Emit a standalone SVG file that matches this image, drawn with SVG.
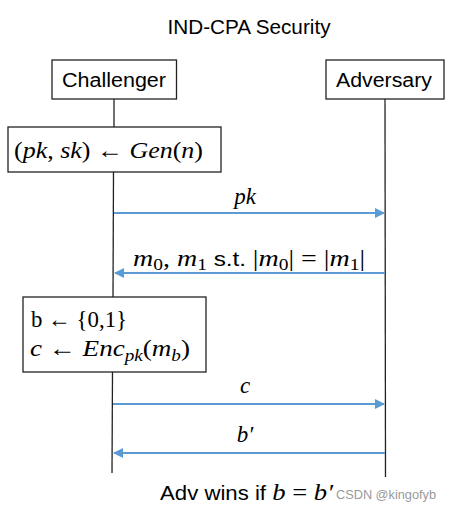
<svg xmlns="http://www.w3.org/2000/svg" width="451" height="511" viewBox="0 0 451 511">
<defs>
<marker id="ah" viewBox="0 0 10 10" refX="9" refY="5" markerWidth="5" markerHeight="5" orient="auto-start-reverse" markerUnits="strokeWidth">
<path d="M0,0 L10,5 L0,10 z" fill="#5B9BD5"/>
</marker>
<style>
.box{fill:#fff;stroke:#222;stroke-width:1.3}
.life{stroke:#222;stroke-width:1.3;fill:none}
.msg{stroke:#5B9BD5;stroke-width:2;fill:none}
.sans{font-family:"Liberation Sans",Arial,sans-serif;fill:#000}
.math{font-family:"Liberation Serif","DejaVu Serif",serif;font-style:italic;fill:#000}
.up{font-style:normal}
</style>
</defs>
<rect width="451" height="511" fill="#fff"/>
<text class="sans" x="249" y="34" font-size="19.5" text-anchor="middle" textLength="163" lengthAdjust="spacingAndGlyphs">IND-CPA Security</text>
<g id="lifelines">
<line class="life" x1="114" y1="99" x2="114" y2="127"/>
<line class="life" x1="113.5" y1="172" x2="113" y2="297"/>
<line class="life" x1="112.5" y1="372" x2="112" y2="473"/>
<line class="life" x1="385" y1="99" x2="385.5" y2="477"/>
</g>
<g id="challenger">
<rect class="box" x="52" y="60" width="124.5" height="39"/>
<text class="sans" x="62" y="87" font-size="20" textLength="104" lengthAdjust="spacingAndGlyphs">Challenger</text>
</g>
<g id="adversary">
<rect class="box" x="326" y="60" width="118" height="39"/>
<text class="sans" x="336" y="87" font-size="20" textLength="96" lengthAdjust="spacingAndGlyphs">Adversary</text>
</g>
<g id="gen">
<rect class="box" x="8" y="127" width="213" height="45"/>
<text class="math" x="14" y="158" font-size="24" textLength="189" lengthAdjust="spacingAndGlyphs"><tspan class="up">(</tspan>pk<tspan class="up">, </tspan>sk<tspan class="up">) ← </tspan>Gen<tspan class="up">(</tspan>n<tspan class="up">)</tspan></text>
</g>
<g id="enc">
<rect class="box" x="23" y="297" width="183" height="75"/>
<text class="math up" x="31" y="327" font-size="24" textLength="96" lengthAdjust="spacingAndGlyphs">b ← {0,1}</text>
<text class="math" x="30" y="356" font-size="24" textLength="160" lengthAdjust="spacingAndGlyphs">c<tspan class="up"> ← </tspan>Enc<tspan font-size="17" dy="5">pk</tspan><tspan class="up" dy="-5">(</tspan>m<tspan font-size="17" dy="5">b</tspan><tspan class="up" dy="-5">)</tspan></text>
</g>
<g id="connectors">
<line class="msg" x1="114" y1="213" x2="384" y2="213" marker-end="url(#ah)"/>
<line class="msg" x1="385" y1="273" x2="115" y2="273" marker-end="url(#ah)"/>
<line class="msg" x1="113" y1="404" x2="384" y2="404" marker-end="url(#ah)"/>
<line class="msg" x1="385" y1="453" x2="114" y2="453" marker-end="url(#ah)"/>
</g>
<g id="labels">
<text class="math" x="245" y="204" font-size="23" text-anchor="middle">pk</text>
<text class="math" x="133" y="266" font-size="23" textLength="232" lengthAdjust="spacingAndGlyphs">m<tspan class="up" font-size="16" dy="4">0</tspan><tspan class="up" dy="-4">, </tspan>m<tspan class="up" font-size="16" dy="4">1</tspan><tspan class="sans up" dy="-4" font-size="20"> s.t. </tspan><tspan class="up">|</tspan>m<tspan class="up" font-size="16" dy="4">0</tspan><tspan class="up" dy="-4">| = |</tspan>m<tspan class="up" font-size="16" dy="4">1</tspan><tspan class="up" dy="-4">|</tspan></text>
<text class="math" x="245" y="393" font-size="23" text-anchor="middle">c</text>
<text class="math" x="245" y="442" font-size="23" text-anchor="middle">b′</text>
<text class="sans" x="160" y="500" font-size="20" textLength="173" lengthAdjust="spacingAndGlyphs">Adv wins if <tspan class="math" font-size="24">b <tspan class="up">=</tspan> b′</tspan></text>
<text class="sans" x="336" y="499" font-size="13" style="fill:#9a9a9a" textLength="100" lengthAdjust="spacingAndGlyphs">CSDN @kingofyb</text>
</g>
</svg>
